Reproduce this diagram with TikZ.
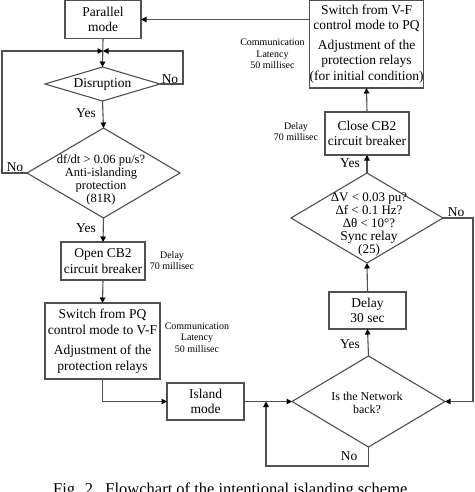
\documentclass[tikz,border=0pt]{standalone}
\usepackage{fontspec}
\setmainfont{Liberation Serif}
\usetikzlibrary{shapes.geometric,arrows.meta}
\definecolor{linec}{HTML}{505050}
\newcommand{\boxfont}{\fontsize{13.5}{15.5}\selectfont}
\newcommand{\diafont}{\fontsize{12.5}{13.2}\selectfont}
\newcommand{\sidefont}{\fontsize{10}{11.5}\selectfont}
\newcommand{\lblfont}{\fontsize{13.5}{15}\selectfont}
\tikzset{
  box/.style={draw=linec, line width=1.1pt, rectangle, inner sep=0pt, outer sep=0pt, align=center, font=\boxfont},
  dia/.style={draw=linec, line width=1.1pt, diamond, inner sep=0pt, outer sep=0pt},
  diatext/.style={align=center, inner sep=0pt, font=\diafont},
  arr/.style={draw=linec, line width=1.1pt, -{Triangle[length=5.5pt,width=5.5pt,black]}},
  ln/.style={draw=linec, line width=1.1pt},
  lbl/.style={font=\lblfont, inner sep=0pt},
  side/.style={font=\sidefont, align=center, inner sep=0pt},
}
\begin{document}
\begin{tikzpicture}[x=1pt,y=-1pt]
\useasboundingbox (0,0) rectangle (474,492);
\clip (0,0) rectangle (474,492);
\fill[white] (0,0) rectangle (474,492);

% boxes
\node[box, minimum width=76pt, minimum height=38pt] (par) at (103,19.5) {Parallel\\mode};
\node[box, minimum width=113pt, minimum height=88pt] (top) at (366.5,44)
  {Switch from V-F\\control mode to PQ\\[4pt]Adjustment of the\\protection relays\\(for initial condition)};
\node[box, minimum width=84pt, minimum height=43pt] (close) at (367,133.5) {Close CB2\\circuit breaker};
\node[box, minimum width=77pt, minimum height=37pt] (delay) at (367.5,310.5) {Delay\\30 sec};
\node[box, minimum width=77pt, minimum height=37pt] (isl) at (205.5,401.5) {Island\\mode};
\node[box, minimum width=115pt, minimum height=76pt] (sw) at (102.5,341)
  {Switch from PQ\\control mode to V-F\\[5pt]Adjustment of the\\protection relays};
\node[box, minimum width=84pt, minimum height=38pt] (open) at (103,261) {Open CB2\\circuit breaker};

% diamonds
\node[dia, minimum width=115pt, minimum height=34pt] (dis) at (102.5,84) {};
\node[diatext, font=\boxfont] (dist) at (dis) {Disruption};
\node[dia, minimum width=153pt, minimum height=90pt] (anti) at (103.5,173) {};
\node[diatext] (antit) at (101,180) {df/dt > 0.06 pu/s?\\Anti-islanding\\protection\\(81R)};
\node[dia, minimum width=152pt, minimum height=90pt] (sync) at (367,218) {};
\node[diatext, font=\fontsize{13}{13}\selectfont] (synct) at (369,225) {ΔV < 0.03 pu?\\Δf < 0.1 Hz?\\Δθ < 10°?\\{\boxfont Sync relay}\\(25)};
\node[dia, minimum width=153pt, minimum height=91pt] (net) at (368.5,401.5) {};
\node[diatext, font=\fontsize{12}{13.5}\selectfont] (nett) at (367,403) {Is the Network\\back?};

% junction coordinates
\coordinate (j1) at (103,51);
\coordinate (j2) at (266,401.5);

% connectors
\draw[arr] (top.west |- par.east) -- (par.east);
\draw[arr] (par.south) -- (dis.north);
\draw[arr] (dis.east) -- (183,84) |- (j1);
\draw[arr] (anti.west) -- (2,173) |- (j1);
\draw[arr] (dis.south) -- (anti.north);
\draw[arr] (anti.south) -- (open.north);
\draw[arr] (open.south) -- (sw.north);
\draw[arr] (sw.south) |- (isl.west);
\draw[arr] (isl.east) -- (net.west);
\draw[arr] (net.south) -- (368.5,466) -| (j2);
\draw[arr] (net.north) -- (delay.south);
\draw[arr] (delay.north) -- (sync.south);
\draw[arr] (sync.north) -- (close.south);
\draw[arr] (close.north) -- (top.south);
\draw[arr] (sync.east) -- (473,218) |- (net.east);

% yes/no labels
\node[lbl] (l1) at (170,79) {No};
\node[lbl] (l2) at (86,113) {Yes};
\node[lbl] (l3) at (15,167) {No};
\node[lbl] (l4) at (86,228) {Yes};
\node[lbl] (l5) at (456,212) {No};
\node[lbl] (l6) at (350,163) {Yes};
\node[lbl] (l7) at (350,344) {Yes};
\node[lbl] (l8) at (349,456.5) {No};

% side notes
\node[side] (s1) at (172,260.5) {Delay\\70 millisec};
\node[side] (s2) at (197,337.5) {Communication\\Latency\\50 millisec};
\node[side] (s3) at (296,131.5) {Delay\\70 millisec};
\node[side] (s4) at (272.5,54) {Communication\\Latency\\50 millisec};

% caption (cut off at the bottom edge, as in the reference)
\node[anchor=base west, inner sep=0pt, font=\fontsize{16.5}{18}\selectfont] (cap) at (53,494.5)
  {Fig. 2.\ \ Flowchart of the intentional islanding scheme};
\end{tikzpicture}
\end{document}
